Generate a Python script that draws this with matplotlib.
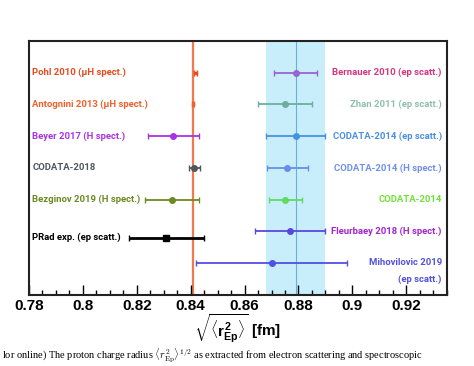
import matplotlib
matplotlib.use("Agg")
import matplotlib.pyplot as plt
from matplotlib.ticker import MultipleLocator

plt.rcParams['font.family'] = ['Liberation Sans', 'DejaVu Sans']
plt.rcParams['mathtext.fontset'] = 'custom'
plt.rcParams['mathtext.rm'] = 'Liberation Sans:bold'
plt.rcParams['mathtext.it'] = 'Liberation Sans:bold'
plt.rcParams['mathtext.bf'] = 'Liberation Sans:bold'

# left column: spectroscopy / PRad
left_labels = ['Pohl 2010 (\u03bcH spect.)', 'Antognini 2013 (\u03bcH spect.)', 'Beyer 2017 (H spect.)',
               'CODATA-2018', 'Bezginov 2019 (H spect.)', 'PRad exp. (ep scatt.)']
left_vals = [0.8418, 0.8409, 0.8335, 0.8414, 0.833, 0.831]
left_errs = [0.0007, 0.0004, 0.0095, 0.0019, 0.010, 0.014]
left_rows = [1, 2, 3, 4, 5, 6.2]
left_colors = ['#e8491d', '#f0602a', '#a833e6', '#4f565c', '#6b8a22', '#000000']
left_ms = [1.5, 1.5, 4, 4, 4, 4]

# right column: mostly ep scattering
right_labels = ['Bernauer 2010 (ep scatt.)', 'Zhan 2011 (ep scatt.)', 'CODATA-2014 (ep scatt.)',
                'CODATA-2014 (H spect.)', 'CODATA-2014', 'Fleurbaey 2018 (H spect.)', 'Mihovilovic 2019']
right_vals = [0.879, 0.875, 0.879, 0.8759, 0.8751, 0.877, 0.870]
right_errs = [0.008, 0.010, 0.011, 0.0077, 0.0061, 0.013, 0.028]
right_rows = [1, 2, 3, 4, 5, 6, 7]
right_text_colors = ['#d4367c', '#8fbfae', '#4a90e2', '#7090ea', '#6ee23a', '#a424d0', '#5252dc']
right_bar_colors = ['#9a62d0', '#6fae9e', '#4a90e2', '#6a8ee6', '#5fdc5f', '#5a48dc', '#5050e6']

muH_radius = 0.8409
band_center = 0.879
band_half = 0.011

lab_font = dict(family=['Roboto', 'DejaVu Sans'], fontsize=6.8, fontweight='bold')

fig = plt.figure(figsize=(4.74, 3.66), dpi=100)
ax = fig.add_axes([29/474, 1-294.7/366, (446.7-29)/474, (294.7-41)/366])

ax.axvspan(band_center-band_half, band_center+band_half, color='#c8eefc', lw=0, zorder=0)
ax.axvline(band_center, color='#6aaee0', lw=0.8, zorder=1)
ax.axvline(muH_radius, color='#f07a4a', lw=1.6, zorder=1)

for i in range(len(left_labels)):
    c = left_colors[i]
    mk = 's' if i == 5 else 'o'
    lw = 2.0 if i == 5 else 1.3
    ax.errorbar(left_vals[i], left_rows[i], xerr=left_errs[i], fmt=mk, color=c, ms=left_ms[i],
                lw=lw, capsize=2, capthick=1, zorder=3)
    ax.text(0.7812, left_rows[i], left_labels[i], color=c, ha='left', va='center', **lab_font)

for i in range(len(right_labels)):
    ax.errorbar(right_vals[i], right_rows[i], xerr=right_errs[i], fmt='o', color=right_bar_colors[i],
                ms=4, lw=1.3, capsize=2, capthick=1, zorder=3)
    ax.text(0.9332, right_rows[i], right_labels[i], color=right_text_colors[i],
            ha='right', va='center', **lab_font)
ax.text(0.9332, 7.5, '(ep scatt.)', color=right_text_colors[6], ha='right', va='center', **lab_font)

ax.set_xlim(0.78, 0.935)
ax.set_ylim(8, 0)
ax.set_yticks([])
ax.xaxis.set_major_locator(MultipleLocator(0.02))
ax.xaxis.set_minor_locator(MultipleLocator(0.005))
ax.tick_params(axis='x', which='major', direction='in', length=7, width=1, labelsize=11, pad=3)
ax.tick_params(axis='x', which='minor', direction='in', length=3.5, width=1)
ax.set_xticks(ax.get_xticks())
ax.set_xticklabels([f'{t:g}' for t in ax.get_xticks()], fontweight='bold')
ax.set_xlim(0.78, 0.935)
for s in ax.spines.values():
    s.set_linewidth(1.5)
    s.set_color('#222222')

ax.set_xlabel(r'$\sqrt{\langle r^{2}_{Ep}\rangle}$ [fm]', fontsize=11, fontweight='bold', labelpad=0)

fig.text(0.004, 1-355.5/366, r'lor online) The proton charge radius $\langle r^2_{\rm Ep}\rangle^{1/2}$ as extracted from electron scattering and spectroscopic',
         family='Liberation Serif', fontsize=7.5, ha='left', va='center', math_fontfamily='cm')

fig.savefig('out.png', dpi=100)
